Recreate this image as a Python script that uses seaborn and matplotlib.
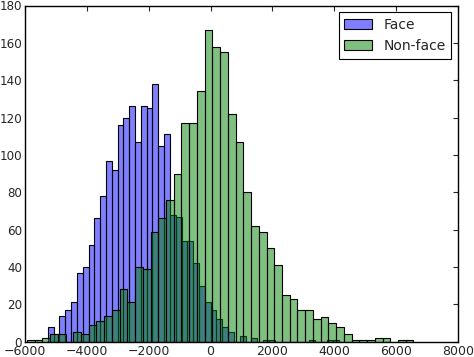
import numpy as np
import pandas as pd
import matplotlib
matplotlib.use("Agg")
import matplotlib.pyplot as plt
import seaborn as sns

# histogram counts, 50 bins per class
face_counts = [8, 4, 14, 17, 21, 37, 40, 52, 66, 78,
               97, 92, 116, 120, 126, 107, 126, 125, 138, 105,
               111, 68, 67, 54, 54, 42, 30, 21, 17, 12,
               8, 5, 0, 3, 0, 2, 0, 1, 1, 0,
               0, 0, 0, 0, 0, 1, 0, 0, 1, 1]
nonface_counts = [1, 1, 2, 4, 4, 0, 5, 4, 9, 11,
                  14, 17, 28, 21, 40, 39, 59, 66, 76, 90,
                  117, 117, 134, 167, 158, 155, 122, 107, 80, 62,
                  59, 50, 41, 25, 23, 17, 17, 12, 13, 10,
                  8, 4, 1, 1, 1, 2, 2, 0, 1, 1]
face_range = (-5262, 4138)
nonface_range = (-5940, 6560)
labels = ["Face", "Non-face"]

sns.set_style("white")
plt.rcParams["font.family"] = ["DejaVu Sans"]
plt.rcParams.update({
    "xtick.direction": "in", "ytick.direction": "in",
    "xtick.top": True, "ytick.right": True,
    "xtick.major.size": 3.5, "ytick.major.size": 3.5,
    "xtick.major.width": 0.8, "ytick.major.width": 0.8,
    "xtick.labelsize": 9, "ytick.labelsize": 8.6,
    "xtick.major.pad": 2.5, "ytick.major.pad": 2,
    "axes.edgecolor": "black", "axes.linewidth": 1.0,
})

fig = plt.figure(figsize=(4.74, 3.57), dpi=100)
ax = fig.add_axes([25 / 474, 15.3 / 357, 433 / 474, 336.2 / 357])

for counts, rng, col, lab in [(face_counts, face_range, (0, 0, 1), labels[0]),
                              (nonface_counts, nonface_range, (0, 0.5, 0), labels[1])]:
    edges = np.linspace(rng[0], rng[1], len(counts) + 1)
    df = pd.DataFrame({"x": (edges[:-1] + edges[1:]) / 2, "n": counts})
    sns.histplot(data=df, x="x", weights="n", bins=list(edges), ax=ax, color=col,
                 alpha=0.5, edgecolor="black", linewidth=0.8, label=lab)

ax.set_xlim(-6000, 8000)
ax.set_ylim(0, 180)
ax.set_xticks(np.arange(-6000, 8001, 2000))
ax.set_yticks(np.arange(0, 181, 20))
ax.set_xlabel("")
ax.set_ylabel("")
for s in ax.spines.values():
    s.set_visible(True)

leg = ax.legend(loc="upper right", fontsize=10, fancybox=False, framealpha=1,
                edgecolor="black", borderaxespad=0.5, handlelength=2.0)
leg.get_frame().set_linewidth(0.8)

fig.savefig("out.png", dpi=100)
